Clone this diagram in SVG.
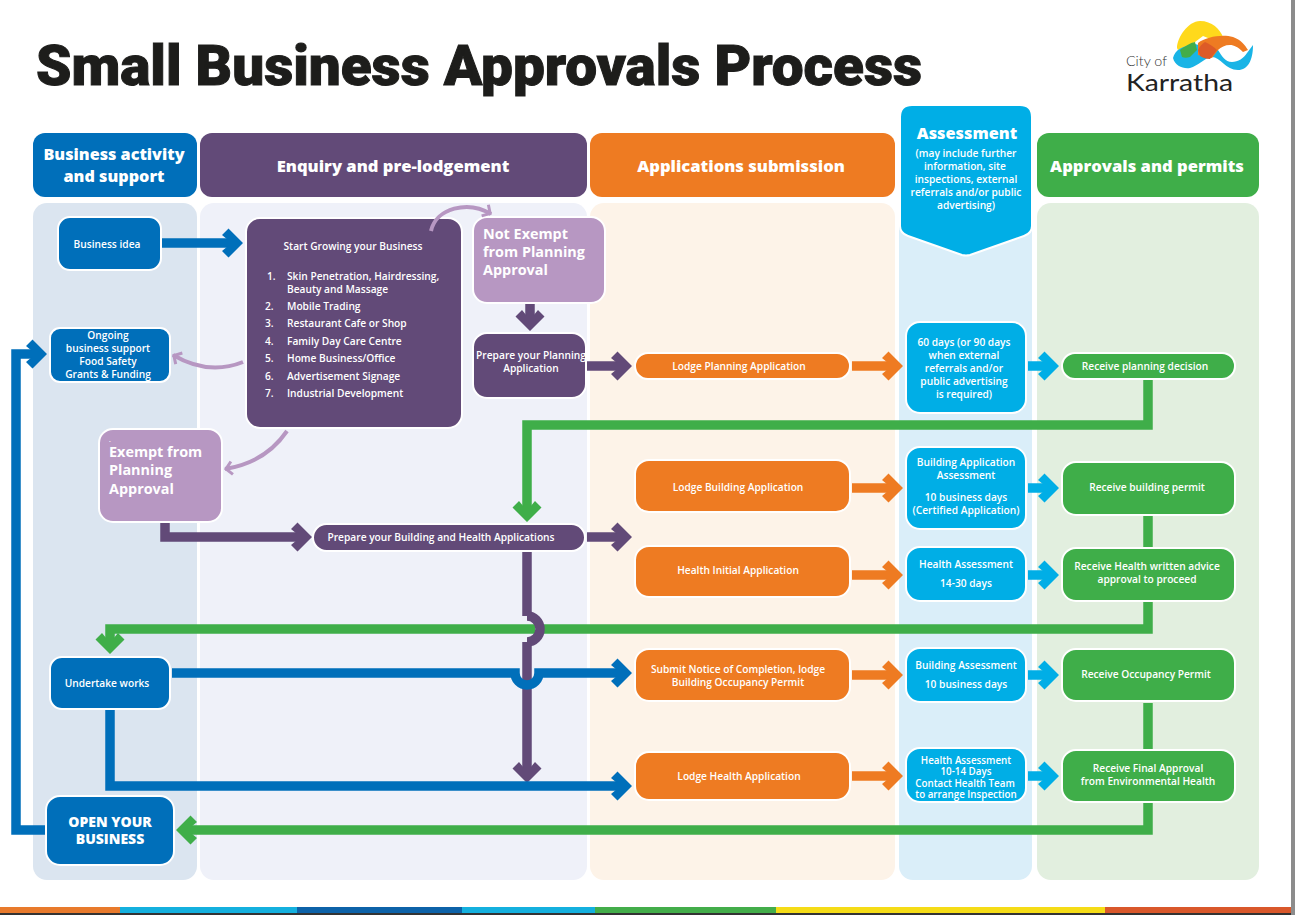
<svg xmlns="http://www.w3.org/2000/svg" width="1295" height="915" viewBox="0 0 1295 915">
<defs>
<style>
text{font-family:"Open Sans","Noto Sans","Liberation Sans",sans-serif;fill:#fff;font-size:10.2px;font-weight:600;text-anchor:middle}
.h{font-size:16.6px;font-weight:800}
.l{text-anchor:start}
.big{font-size:14.4px;font-weight:700}
.n{stroke:#fff;stroke-width:2}
.blue{fill:#006fba}.pur{fill:#624a78}.lil{fill:#b797c2}.org{fill:#ee7b22}.cyn{fill:#00aee6}.grn{fill:#3fae49}
.c{fill:none;stroke-width:9.5;stroke-linejoin:miter}
.cb{stroke:#006fba}.cp{stroke:#624a78}.cg{stroke:#3fae49}.co{stroke:#ee7b22}.cc{stroke:#00aee6}
.cl{fill:none;stroke:#b797c2;stroke-width:4;marker-end:url(#ml)}
</style>
<marker id="mb" markerUnits="userSpaceOnUse" viewBox="-22 -16 24 32" refX="-5" refY="0" markerWidth="24" markerHeight="32" orient="auto"><path fill="#006fba" d="M0,0L-14.5,-14.5L-21,-8L-15,-3V3L-21,8L-14.5,14.5Z"/></marker>
<marker id="mp" markerUnits="userSpaceOnUse" viewBox="-22 -16 24 32" refX="-5" refY="0" markerWidth="24" markerHeight="32" orient="auto"><path fill="#624a78" d="M0,0L-14.5,-14.5L-21,-8L-15,-3V3L-21,8L-14.5,14.5Z"/></marker>
<marker id="mg" markerUnits="userSpaceOnUse" viewBox="-22 -16 24 32" refX="-5" refY="0" markerWidth="24" markerHeight="32" orient="auto"><path fill="#3fae49" d="M0,0L-14.5,-14.5L-21,-8L-15,-3V3L-21,8L-14.5,14.5Z"/></marker>
<marker id="mo" markerUnits="userSpaceOnUse" viewBox="-22 -16 24 32" refX="-5" refY="0" markerWidth="24" markerHeight="32" orient="auto"><path fill="#ee7b22" d="M0,0L-14.5,-14.5L-21,-8L-15,-3V3L-21,8L-14.5,14.5Z"/></marker>
<marker id="mc" markerUnits="userSpaceOnUse" viewBox="-22 -16 24 32" refX="-5" refY="0" markerWidth="24" markerHeight="32" orient="auto"><path fill="#00aee6" d="M0,0L-14.5,-14.5L-21,-8L-15,-3V3L-21,8L-14.5,14.5Z"/></marker>
<marker id="ml" markerUnits="userSpaceOnUse" viewBox="-10 -8 12 16" refX="0" refY="0" markerWidth="12" markerHeight="16" orient="auto"><path fill="none" stroke="#b797c2" stroke-width="3" d="M-7,-6.5L-1,0L-7,6.5"/></marker>
</defs>
<rect width="1295" height="915" fill="#fff"/>
<rect x="1291" y="0" width="4" height="915" fill="#8c8c8c"/>
<text x="36" y="85" textLength="886" lengthAdjust="spacingAndGlyphs" style="font-family:Roboto,'Open Sans',sans-serif;font-size:56px;font-weight:900;fill:#1d1d1b;stroke:#1d1d1b;stroke-width:1;text-anchor:start">Small Business Approvals Process</text>
<g id="logo">
<path fill="#ffd91c" d="M1177,48C1177,38 1188,21 1200,21C1212,21 1220,29 1223,37L1213,40L1203,36L1195,42L1178,50Z"/>
<path fill="#19b4e6" d="M1173,58C1175,50 1182,46 1195,44L1218,50C1222,56 1225,62 1232,62C1238,62 1244,58 1247,53L1253,45C1253,60 1248,70 1238,70C1226,70 1220,57 1212,57C1204,58 1198,66 1190,68C1183,69 1175,66 1173,58Z"/>
<path fill="#43ad4a" d="M1180,50C1185,46 1190,43 1195,42L1197,50L1190,57C1187,58 1184,58 1182,57Z"/>
<path fill="#ee7b22" d="M1198,43C1206,37 1222,34 1233,37C1241,40 1245,45 1248,50L1243,52C1238,47 1234,45 1230,45C1225,45 1221,47 1218,50L1212,58L1198,55Z"/>
<path fill="#dd5b27" d="M1198,50C1200,46 1202,44 1205,42C1210,44 1214,47 1217,50L1210,59C1206,59 1203,58 1200,56Z"/>
<text class="l" x="1126" y="66" style="font-family:Lato,sans-serif;font-size:14px;font-weight:300;fill:#333" textLength="41" lengthAdjust="spacingAndGlyphs">City of</text>
<text class="l" x="1126" y="91" style="font-family:Lato,sans-serif;font-size:24px;font-weight:400;fill:#222" textLength="107" lengthAdjust="spacingAndGlyphs">Karratha</text>
</g>
<g id="footer">
<rect x="0" y="907" width="120" height="6" fill="#e87a2c"/><rect x="120" y="907" width="177" height="6" fill="#14b0de"/><rect x="297" y="907" width="165" height="6" fill="#0d62a8"/><rect x="462" y="907" width="133" height="6" fill="#14b0de"/><rect x="595" y="907" width="181" height="6" fill="#43ad4a"/><rect x="776" y="907" width="329" height="6" fill="#f5dc17"/><rect x="1105" y="907" width="186" height="6" fill="#d9582b"/><rect x="0" y="913" width="1291" height="2" fill="#333"/>
</g>
<g id="lanes">
<rect x="33" y="203" width="164" height="677" rx="14" fill="#dbe5f0"/>
<rect x="200" y="203" width="387" height="677" rx="14" fill="#eff1f9"/>
<rect x="590" y="203" width="305" height="677" rx="14" fill="#fdf3e8"/>
<rect x="899" y="200" width="133" height="680" rx="14" fill="#daeef9"/>
<rect x="1037" y="203" width="222" height="677" rx="14" fill="#e2efdf"/>
</g>
<g id="headers">
<g id="h1"><rect class="blue" x="33" y="133" width="164" height="64" rx="12"/><text class="h" x="114" y="160" style="font-size:16.2px">Business activity</text><text class="h" x="114" y="182" style="font-size:16.2px">and support</text></g>
<g id="h2"><rect class="pur" x="200" y="133" width="387" height="64" rx="12"/><text class="h" x="393" y="172">Enquiry and pre-lodgement</text></g>
<g id="h3"><rect class="org" x="590" y="133" width="305" height="64" rx="12"/><text class="h" x="741" y="172">Applications submission</text></g>
<g id="h4"><path class="cyn" stroke="#fff" stroke-width="2" d="M912,105H1020Q1032,105 1032,117V226Q1032,233 1024,236L970,255Q966,256 962,255L908,236Q900,233 900,226V117Q900,105 912,105Z"/><text class="h" x="967" y="139" style="font-size:16.3px">Assessment</text>
<text x="966" y="157">(may include further</text><text x="965" y="170">information, site</text><text x="966" y="183">inspections, external</text><text x="966" y="196">referrals and/or public</text><text x="966" y="209">advertising)</text></g>
<g id="h5"><rect class="grn" x="1037" y="133" width="222" height="64" rx="12"/><text class="h" x="1147" y="172">Approvals and permits</text></g>
</g>
<g id="connectors">
<path class="c cp" d="M527,552V616M527,642V775" />
<path class="c cg" d="M1148,380V425H527V517" marker-end="url(#mg)"/>
<path class="c cg" d="M1148,516V547M1148,703V749"/>
<path class="c cg" d="M1148,602V629H544M535,629H110V649" marker-end="url(#mg)"/>
<path class="c cg" d="M1148,803V830H181" marker-end="url(#mg)"/>
<path class="c cp" d="M527,616A13,13 0 0 1 527,642"/>
<path class="c cp" d="M527,768V778" marker-end="url(#mp)"/>
<path class="c cb" d="M162,243H238" marker-end="url(#mb)"/>
<path class="c cb" d="M46,830H16V354H42" marker-end="url(#mb)"/>
<path class="c cb" d="M172,673H515A12,12 0 0 0 539,673H627" marker-end="url(#mb)"/>
<path class="c cb" d="M110,710V786H627" marker-end="url(#mb)"/>
<path class="c cp" d="M165,523V537H307" marker-end="url(#mp)"/>
<path class="c cp" d="M587,537H627" marker-end="url(#mp)"/>
<path class="c cp" d="M530,304V326" marker-end="url(#mp)"/>
<path class="c cp" d="M587,366H627" marker-end="url(#mp)"/>
<path class="c co" d="M852,366H898" marker-end="url(#mo)"/>
<path class="c co" d="M852,488H898" marker-end="url(#mo)"/>
<path class="c co" d="M852,575H898" marker-end="url(#mo)"/>
<path class="c co" d="M852,675H898" marker-end="url(#mo)"/>
<path class="c co" d="M852,776H898" marker-end="url(#mo)"/>
<path class="c cc" d="M1028,366H1054" marker-end="url(#mc)"/>
<path class="c cc" d="M1028,488H1054" marker-end="url(#mc)"/>
<path class="c cc" d="M1028,575H1054" marker-end="url(#mc)"/>
<path class="c cc" d="M1028,675H1054" marker-end="url(#mc)"/>
<path class="c cc" d="M1028,776H1054" marker-end="url(#mc)"/>
<path class="cl" d="M243,362C218,372 195,368 173,355"/>
<path class="cl" d="M287,431C272,453 250,465 225,469"/>
</g>
<g id="n-idea"><rect class="n blue" x="58" y="217" width="103" height="53" rx="12"/><text x="107" y="248">Business idea</text></g>
<g id="n-ongoing"><rect class="n blue" x="50" y="328" width="120" height="54" rx="10"/><text x="108" y="339">Ongoing</text><text x="108" y="352">business support</text><text x="108" y="365">Food Safety</text><text x="108" y="378">Grants &amp; Funding</text></g>
<g id="n-start"><rect class="n pur" x="246" y="218" width="216" height="210" rx="14"/><text x="353" y="250">Start Growing your Business</text>
<text class="l" x="267" y="280">1.</text><text class="l" x="287" y="280">Skin Penetration, Hairdressing,</text><text class="l" x="287" y="293">Beauty and Massage</text>
<text class="l" x="265" y="310">2.</text><text class="l" x="287" y="310">Mobile Trading</text>
<text class="l" x="265" y="327">3.</text><text class="l" x="287" y="327">Restaurant Cafe or Shop</text>
<text class="l" x="265" y="345">4.</text><text class="l" x="287" y="345">Family Day Care Centre</text>
<text class="l" x="265" y="362">5.</text><text class="l" x="287" y="362">Home Business/Office</text>
<text class="l" x="265" y="380">6.</text><text class="l" x="287" y="380">Advertisement Signage</text>
<text class="l" x="265" y="397">7.</text><text class="l" x="287" y="397">Industrial Development</text></g>
<g id="n-notexempt"><rect class="n lil" x="473" y="217" width="132" height="86" rx="14"/><text class="l big" x="483" y="239">Not Exempt</text><text class="l big" x="483" y="257">from Planning</text><text class="l big" x="483" y="275">Approval</text></g>
<g id="n-planprep"><rect class="n pur" x="473" y="333" width="113" height="65" rx="14"/><text x="531" y="359">Prepare your Planning</text><text x="531" y="372">Application</text></g>
<g id="n-exempt"><rect class="n lil" x="99" y="429" width="123" height="93" rx="14"/><text class="l big" x="109" y="442" style="font-size:6px">.</text><text class="l big" x="109" y="457">Exempt from</text><text class="l big" x="109" y="475">Planning</text><text class="l big" x="109" y="494">Approval</text></g>
<g id="n-buildprep"><rect class="n pur" x="313" y="524" width="272" height="27" rx="13.5"/><text x="441" y="541">Prepare your Building and Health Applications</text></g>
<g id="n-lodgeplan"><rect class="n org" x="635" y="353" width="215" height="26" rx="13"/><text x="739" y="370">Lodge Planning Application</text></g>
<g id="n-lodgebuild"><rect class="n org" x="635" y="460" width="215" height="52" rx="14"/><text x="738" y="491">Lodge Building Application</text></g>
<g id="n-healthinit"><rect class="n org" x="635" y="546" width="215" height="51" rx="14"/><text x="738" y="574">Health Initial Application</text></g>
<g id="n-notice"><rect class="n org" x="635" y="649" width="215" height="52" rx="14"/><text x="738" y="673">Submit Notice of Completion, lodge</text><text x="738" y="686">Building Occupancy Permit</text></g>
<g id="n-lodgehealth"><rect class="n org" x="635" y="752" width="215" height="48" rx="14"/><text x="739" y="780">Lodge Health Application</text></g>
<g id="n-a60"><rect class="n cyn" x="906" y="322" width="120" height="91" rx="14"/><text x="964" y="346">60 days (or 90 days</text><text x="964" y="359">when external</text><text x="964" y="372">referrals and/or</text><text x="964" y="385">public advertising</text><text x="964" y="398">is required)</text></g>
<g id="n-abuild"><rect class="n cyn" x="906" y="447" width="120" height="82" rx="14"/><text x="966" y="466">Building Application</text><text x="966" y="479">Assessment</text><text x="966" y="501">10 business days</text><text x="966" y="514">(Certified Application)</text></g>
<g id="n-ahealth"><rect class="n cyn" x="906" y="547" width="120" height="54" rx="14"/><text x="966" y="568">Health Assessment</text><text x="966" y="587">14-30 days</text></g>
<g id="n-abuild2"><rect class="n cyn" x="906" y="648" width="120" height="54" rx="14"/><text x="966" y="669">Building Assessment</text><text x="966" y="688">10 business days</text></g>
<g id="n-ahealth2"><rect class="n cyn" x="906" y="748" width="120" height="54" rx="14"/><text x="966" y="764" style="font-size:9.8px">Health Assessment</text><text x="966" y="775" style="font-size:9.8px">10-14 Days</text><text x="965" y="786.5" style="font-size:9.8px">Contact Health Team</text><text x="966" y="798" style="font-size:9.8px">to arrange Inspection</text></g>
<g id="n-rplan"><rect class="n grn" x="1062" y="353" width="173" height="26" rx="13"/><text x="1145" y="370">Receive planning decision</text></g>
<g id="n-rbuild"><rect class="n grn" x="1062" y="462" width="173" height="53" rx="14"/><text x="1147" y="491">Receive building permit</text></g>
<g id="n-rhealth"><rect class="n grn" x="1062" y="548" width="173" height="53" rx="14"/><text x="1147" y="570">Receive Health written advice</text><text x="1147" y="583">approval to proceed</text></g>
<g id="n-rocc"><rect class="n grn" x="1062" y="649" width="173" height="52" rx="14"/><text x="1146" y="678">Receive Occupancy Permit</text></g>
<g id="n-rfinal"><rect class="n grn" x="1062" y="750" width="173" height="52" rx="14"/><text x="1148" y="772">Receive Final Approval</text><text x="1148" y="785">from Environmental Health</text></g>
<g id="n-undertake"><rect class="n blue" x="50" y="657" width="120" height="52" rx="12"/><text x="107" y="687">Undertake works</text></g>
<g id="n-open"><rect class="n blue" x="46" y="796" width="128" height="69" rx="14"/><text x="110" y="827" style="font-size:14px;font-weight:800">OPEN YOUR</text><text x="110" y="844" style="font-size:14px;font-weight:800">BUSINESS</text></g>
<g id="connectors-over"><path class="cl" d="M431,231C436,208 468,200 491,214"/></g>
</svg>
